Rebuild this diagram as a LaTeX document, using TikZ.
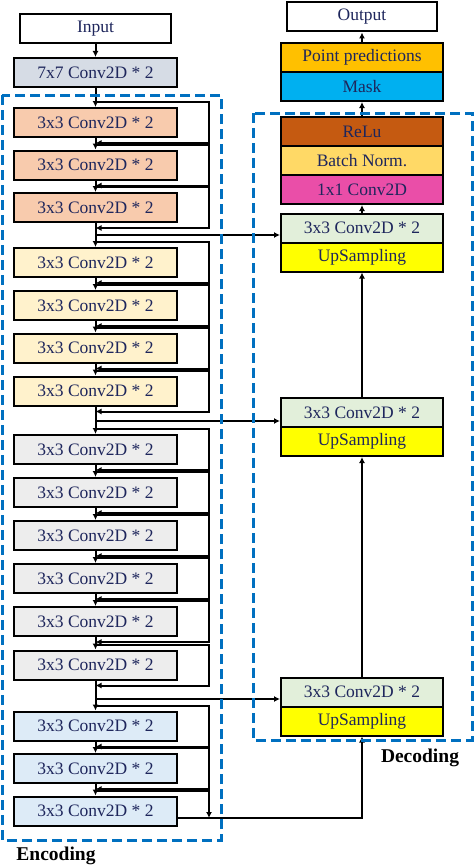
\documentclass[tikz,border=0pt]{standalone}
\usepackage{fontspec}
\setmainfont{Liberation Serif}
\usetikzlibrary{arrows.meta, calc}
\definecolor{txtblue}{RGB}{30,38,92}
\definecolor{frameblue}{RGB}{0,112,192}
\definecolor{c77}{RGB}{214,220,229}
\definecolor{corange}{RGB}{248,203,173}
\definecolor{cyellow}{RGB}{255,242,204}
\definecolor{cgray}{RGB}{237,237,237}
\definecolor{cblue}{RGB}{221,235,247}
\definecolor{cgreen}{RGB}{226,239,218}
\definecolor{cup}{RGB}{255,255,0}
\definecolor{crelu}{RGB}{197,90,17}
\definecolor{cbn}{RGB}{255,217,102}
\definecolor{cconv}{RGB}{234,78,168}
\definecolor{cmask}{RGB}{0,176,240}
\definecolor{cpred}{RGB}{255,192,0}
\tikzset{
    blk/.style={draw=black,line width=2pt,minimum width=163pt,minimum height=29pt,inner sep=0pt,text=txtblue,font=\fontsize{17.5}{20}\selectfont},
    dblk/.style={blk,minimum width=162pt},
    ln/.style={draw,line width=2pt},
    arr/.style={ln,-{Latex[length=6pt,width=6pt]}},
    grp/.style={draw=frameblue,line width=3pt,dash pattern=on 10pt off 5pt},
    tt/.style={inner sep=0pt,font=\bfseries\fontsize{19.5}{22}\selectfont},
    net/.style={
        every edge/.style={arr},
    }
}
\begin{document}
\begin{tikzpicture}[x=1pt,y=-1pt,net]
\useasboundingbox (0,0) rectangle (474,867);
\def\a{95.5}
\def\b{362}
% encoding
\node[blk, minimum width=151pt, fill=white] (in) at (\a,28.5) {Input};
\node[blk, fill=c77] (c7) at (\a,72.5) {7x7 Conv2D * 2};
\node[blk, fill=corange] (e1) at (\a,122.5) {3x3 Conv2D * 2};
\node[blk, fill=corange] (e2) at (\a,165) {3x3 Conv2D * 2};
\node[blk, fill=corange] (e3) at (\a,207.5) {3x3 Conv2D * 2};
\node[blk, fill=cyellow] (e4) at (\a,262.5) {3x3 Conv2D * 2};
\node[blk, fill=cyellow] (e5) at (\a,305.5) {3x3 Conv2D * 2};
\node[blk, fill=cyellow] (e6) at (\a,348) {3x3 Conv2D * 2};
\node[blk, fill=cyellow] (e7) at (\a,391) {3x3 Conv2D * 2};
\node[blk, fill=cgray] (e8) at (\a,449.5) {3x3 Conv2D * 2};
\node[blk, fill=cgray] (e9) at (\a,492.5) {3x3 Conv2D * 2};
\node[blk, fill=cgray] (e10) at (\a,535.5) {3x3 Conv2D * 2};
\node[blk, fill=cgray] (e11) at (\a,578.5) {3x3 Conv2D * 2};
\node[blk, fill=cgray] (e12) at (\a,621.5) {3x3 Conv2D * 2};
\node[blk, fill=cgray] (e13) at (\a,665) {3x3 Conv2D * 2};
\node[blk, fill=cblue] (e14) at (\a,726) {3x3 Conv2D * 2};
\node[blk, fill=cblue] (e15) at (\a,768.5) {3x3 Conv2D * 2};
\node[blk, fill=cblue] (e16) at (\a,811) {3x3 Conv2D * 2};
% decoding
\node[dblk, minimum width=150pt, fill=white] (out) at (\b,17) {Output};
\node[dblk, fill=cpred] (pred) at (\b,57.5) {Point predictions};
\node[dblk, fill=cmask] (mask) at (\b,86.5) {Mask};
\node[dblk, fill=crelu] (relu) at (\b,131.5) {ReLu};
\node[dblk, fill=cbn] (bn) at (\b,160.5) {Batch Norm.};
\node[dblk, fill=cconv] (c1) at (\b,189.5) {1x1 Conv2D};
\node[dblk, fill=cgreen] (u1c) at (\b,228) {3x3 Conv2D * 2};
\node[dblk, fill=cup] (u1u) at (\b,257) {UpSampling};
\node[dblk, fill=cgreen] (u2c) at (\b,412.5) {3x3 Conv2D * 2};
\node[dblk, fill=cup] (u2u) at (\b,441.5) {UpSampling};
\node[dblk, fill=cgreen] (u3c) at (\b,692) {3x3 Conv2D * 2};
\node[dblk, fill=cup] (u3u) at (\b,721) {UpSampling};
\path
    (in) edge (c7)
    (c7) edge (e1)
    (e1) edge (e2)
    (e2) edge (e3)
    (e3) edge (e4)
    (e4) edge (e5)
    (e5) edge (e6)
    (e6) edge (e7)
    (e7) edge (e8)
    (e8) edge (e9)
    (e9) edge (e10)
    (e10) edge (e11)
    (e11) edge (e12)
    (e12) edge (e13)
    (e13) edge (e14)
    (e14) edge (e15)
    (e15) edge (e16)
    (u3c) edge (u2u)
    (u2c) edge (u1u)
    (u1c) edge (c1)
    (relu) edge (mask)
    (pred) edge (out)
;
% skip loops
\draw[arr] ([yshift=5pt]e1.north) -| ([xshift=31pt,yshift=-5pt]e1.south east) -- ([yshift=-5pt]e1.south);
\draw[arr] ([yshift=5pt]e2.north) -| ([xshift=31pt,yshift=-5pt]e2.south east) -- ([yshift=-5pt]e2.south);
\draw[arr] ([yshift=5pt]e3.north) -| ([xshift=31pt,yshift=-5pt]e3.south east) -- ([yshift=-5pt]e3.south);
\draw[arr] ([yshift=5pt]e4.north) -| ([xshift=31pt,yshift=-5pt]e4.south east) -- ([yshift=-5pt]e4.south);
\draw[arr] ([yshift=5pt]e5.north) -| ([xshift=31pt,yshift=-5pt]e5.south east) -- ([yshift=-5pt]e5.south);
\draw[arr] ([yshift=5pt]e6.north) -| ([xshift=31pt,yshift=-5pt]e6.south east) -- ([yshift=-5pt]e6.south);
\draw[arr] ([yshift=5pt]e7.north) -| ([xshift=31pt,yshift=-5pt]e7.south east) -- ([yshift=-5pt]e7.south);
\draw[arr] ([yshift=5pt]e8.north) -| ([xshift=31pt,yshift=-5pt]e8.south east) -- ([yshift=-5pt]e8.south);
\draw[arr] ([yshift=5pt]e9.north) -| ([xshift=31pt,yshift=-5pt]e9.south east) -- ([yshift=-5pt]e9.south);
\draw[arr] ([yshift=5pt]e10.north) -| ([xshift=31pt,yshift=-5pt]e10.south east) -- ([yshift=-5pt]e10.south);
\draw[arr] ([yshift=5pt]e11.north) -| ([xshift=31pt,yshift=-5pt]e11.south east) -- ([yshift=-5pt]e11.south);
\draw[arr] ([yshift=5pt]e12.north) -| ([xshift=31pt,yshift=-5pt]e12.south east) -- ([yshift=-5pt]e12.south);
\draw[arr] ([yshift=5pt]e13.north) -| ([xshift=31pt,yshift=-5pt]e13.south east) -- ([yshift=-5pt]e13.south);
\draw[arr] ([yshift=5pt]e14.north) -| ([xshift=31pt,yshift=-5pt]e14.south east) -- ([yshift=-5pt]e14.south);
\draw[arr] ([yshift=5pt]e15.north) -| ([xshift=31pt,yshift=-5pt]e15.south east) -- ([yshift=-5pt]e15.south);
\draw[arr] ([yshift=5pt]e16.north) -| ([xshift=31pt,yshift=-7pt]e16.east);
% bridges to decoding
\coordinate (b1) at (\a,235);
\coordinate (b2) at (\a,421);
\coordinate (b3) at (\a,699);
\draw[arr] (b1) -- (b1 -| u1c.west);
\draw[arr] (b2) -- (b2 -| u2c.west);
\draw[arr] (b3) -- (b3 -| u3c.west);
\draw[arr] ([yshift=-7pt]e16.east) -| (u3u.south);
% frames
\draw[grp] (2,95) rectangle (221,840);
\draw[grp] (253,113) rectangle (472,740);
\node[tt] (enc) at (56,856) {Encoding};
\node[tt] (dec) at (420,758) {Decoding};
\end{tikzpicture}
\end{document}
